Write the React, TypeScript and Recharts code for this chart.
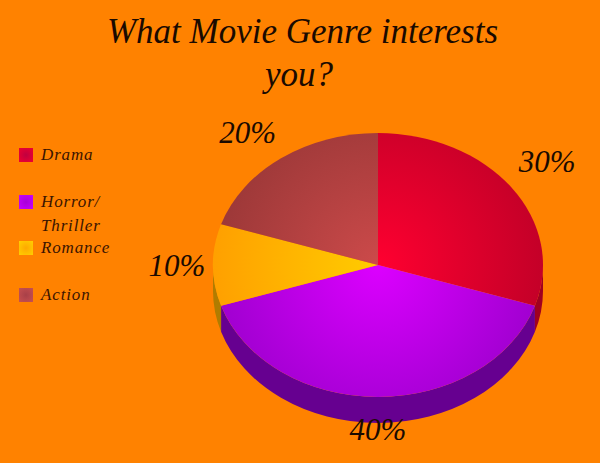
import React from "react";
import { PieChart, Pie, Legend } from "recharts";

const TITLE_LINES = ["What Movie Genre interests", "you?"];
const categories = ["Drama", "Horror/ Thriller", "Romance", "Action"];
const values = [30, 40, 10, 20];
const gradientIds = ["g-drama", "g-horror", "g-romance", "g-action"];
const innerColors = ["#ff0030", "#dc00ff", "#ffcc00", "#cc4a4a"];
const outerColors = ["#c40028", "#a000d0", "#ffa000", "#9c3838"];
const wallColors = ["#a00020", "#660090", "#b07c00", "#7a2c2c"];
const markerCenters = ["#c00040", "#a800d8", "#ffa800", "#a84048"];
const markerEdges = ["#f00030", "#c800ff", "#ffd000", "#c85050"];
const labelNudgeX = [5, 0, 2, -11];
const labelNudgeY = [-7, 0, 0, 0];

const W = 600, H = 463, CX = 378, CY = 265, R = 165;
const SQUASH = 0.8, DEPTH = 26;
const FONT = '"Liberation Serif", serif';

const table = categories.map((name, i) => ({ name, value: values[i], fill: `url(#${gradientIds[i]})`, wall: wallColors[i] }));

const pt = (cx: number, cy: number, r: number, a: number, dy = 0) => {
  const rad = (a * Math.PI) / 180;
  return [cx + r * Math.cos(rad), cy - r * SQUASH * Math.sin(rad) + dy];
};

const TopSlice = (p: any) => {
  const { cx, cy, outerRadius: r, startAngle: s, endAngle: e, fill } = p;
  const [x0, y0] = pt(cx, cy, r, s);
  const [x1, y1] = pt(cx, cy, r, e);
  const large = Math.abs(s - e) > 180 ? 1 : 0;
  return <path d={`M${cx},${cy}L${x0},${y0}A${r},${r * SQUASH} 0 ${large} 1 ${x1},${y1}Z`} fill={fill} />;
};

const WallSlice = (p: any) => {
  const { cx, cy, outerRadius: r, startAngle: s, endAngle: e, wall } = p;
  const a0 = Math.min(s, 0), a1 = Math.max(e, -180);
  if (a0 <= a1) return <g />;
  const [x0, y0] = pt(cx, cy, r, a0);
  const [x1, y1] = pt(cx, cy, r, a1);
  const ry = r * SQUASH;
  return <path d={`M${x0},${y0}A${r},${ry} 0 0 1 ${x1},${y1}L${x1},${y1 + DEPTH}A${r},${ry} 0 0 0 ${x0},${y0 + DEPTH}Z`} fill={wall} />;
};

const renderLabel = (p: any) => {
  const rad = (p.midAngle * Math.PI) / 180;
  const i = values.indexOf(p.value);
  const x = p.cx + (p.outerRadius + 38) * Math.cos(rad) + labelNudgeX[i];
  const y = p.cy - (p.outerRadius * SQUASH + 32) * Math.sin(rad) + labelNudgeY[i];
  return (
    <text x={x} y={y} textAnchor="middle" dominantBaseline="central" fontFamily={FONT} fontStyle="italic" fontSize={31} fill="#1a0a00">
      {p.value}%
    </text>
  );
};

const renderLegend = () => (
  <div style={{ fontFamily: FONT, fontStyle: "italic", fontSize: 17, color: "#3a1400", lineHeight: "24px" }}>
    {categories.map((c, i) => (
      <div key={c} style={{ position: "absolute", left: 19, top: 148 + i * 46.7, width: 100, display: "flex" }}>
        <div style={{ width: 14, height: 14, flex: "none", background: `radial-gradient(circle, ${markerCenters[i]}, ${markerEdges[i]})` }} />
        <div style={{ marginLeft: 8, marginTop: -5, width: 74, letterSpacing: 0.85 }}>{c}</div>
      </div>
    ))}
  </div>
);

export default function App() {
  return (
    <div style={{ position: "absolute", left: 0, top: 0, width: W, height: H, background: "#ff8200", overflow: "hidden" }}>
      <PieChart width={W} height={H} margin={{ top: 0, right: 0, bottom: 0, left: 0 }}>
        <defs>
          {gradientIds.map((id, i) => (
            <radialGradient key={id} id={id} gradientUnits="userSpaceOnUse" cx={CX} cy={CY} r={R}>
              <stop offset="0%" stopColor={innerColors[i]} />
              <stop offset="100%" stopColor={outerColors[i]} />
            </radialGradient>
          ))}
        </defs>
        <text x={302.5} y={43} textAnchor="middle" fontFamily={FONT} fontStyle="italic" fontSize={35} fill="#1a0a00">{TITLE_LINES[0]}</text>
        <text x={299} y={86} textAnchor="middle" fontFamily={FONT} fontStyle="italic" fontSize={35} fill="#1a0a00">{TITLE_LINES[1]}</text>
        <Pie data={table} dataKey="value" nameKey="name" cx={CX} cy={CY} outerRadius={R} startAngle={90} endAngle={-270} stroke="none" shape={WallSlice} isAnimationActive={false} legendType="none" />
        <Pie data={table} dataKey="value" nameKey="name" cx={CX} cy={CY} outerRadius={R} startAngle={90} endAngle={-270} stroke="none" shape={TopSlice} label={renderLabel} labelLine={false} isAnimationActive={false} />
        <Legend content={renderLegend} wrapperStyle={{ left: 0, top: 0, width: 0, height: 0 }} />
      </PieChart>
    </div>
  );
}
